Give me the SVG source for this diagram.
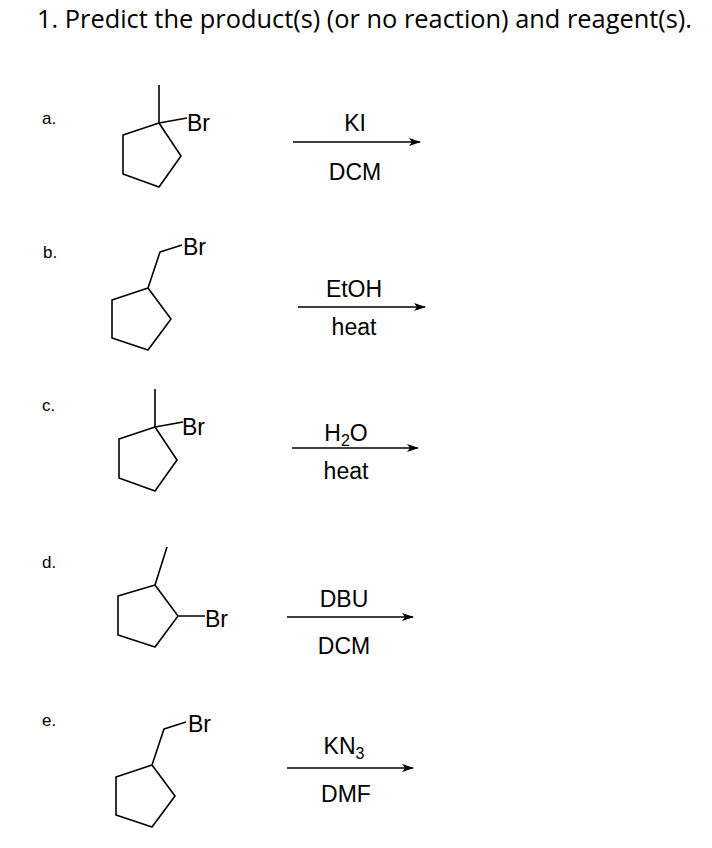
<svg xmlns="http://www.w3.org/2000/svg" width="712" height="848" viewBox="0 0 712 848">
<style>
.b{fill:none;stroke:#000;stroke-width:1.6;stroke-linejoin:round}
.t{font-family:"Liberation Sans",Arial,sans-serif;font-size:23px;fill:#000}
.l{font-family:"Liberation Sans",Arial,sans-serif;font-size:17px;fill:#000}
.m{text-anchor:middle}
</style>
<defs><marker id="ah" markerWidth="12" markerHeight="8" refX="11" refY="4" orient="auto" markerUnits="userSpaceOnUse"><path d="M0,0 L12,4 L0,8 L3,4 z" fill="#000"/></marker></defs>
<rect width="712" height="848" fill="#fff"/>
<text x="37" y="28" font-family="'Open Sans',sans-serif" font-size="25" textLength="655" lengthAdjust="spacingAndGlyphs">1. Predict the product(s) (or no reaction) and reagent(s).</text>
<g id="a"><text class="l" x="42" y="124">a.</text>
<path class="b" d="M159,123 L181,156 L159,187 L123,174 L123,135 Z M159,123 L159,85 M159,123 L187,118"/>
<text class="t" x="187" y="131">Br</text></g>
<g id="b"><text class="l" x="43" y="258">b.</text>
<path class="b" d="M148,288 L171,319 L148,350 L112,338 L112,300 Z M148,288 L160,252 L182,245"/>
<text class="t" x="183" y="255">Br</text></g>
<g id="c"><text class="l" x="42" y="411">c.</text>
<path class="b" d="M155,427 L177,460 L155,491 L119,478 L119,439 Z M155,427 L155,389 M155,427 L183,422"/>
<text class="t" x="182" y="435">Br</text></g>
<g id="d"><text class="l" x="42" y="568">d.</text>
<path class="b" d="M155,585 L178,616 L155,647 L118,635 L118,596 Z M155,585 L167,547 M178,616 L205,616"/>
<text class="t" x="205" y="627">Br</text></g>
<g id="e"><text class="l" x="42" y="726">e.</text>
<path class="b" d="M152,765 L175,796 L152,827 L116,815 L116,777 Z M152,765 L164,729 L186,722"/>
<text class="t" x="188" y="732">Br</text></g>
<g id="connectors">
<line class="b" x1="293" y1="142" x2="420" y2="142" marker-end="url(#ah)"/>
<line class="b" x1="298" y1="307" x2="425" y2="307" marker-end="url(#ah)"/>
<line class="b" x1="292" y1="448" x2="418" y2="448" marker-end="url(#ah)"/>
<line class="b" x1="287" y1="617" x2="413" y2="617" marker-end="url(#ah)"/>
<line class="b" x1="287" y1="768" x2="413" y2="768" marker-end="url(#ah)"/>
</g>
<g id="reagents">
<text class="t m" x="355" y="131">KI</text><text class="t m" x="355" y="180">DCM</text>
<text class="t m" x="354" y="297">EtOH</text><text class="t m" x="354" y="335">heat</text>
<text class="t m" x="346" y="441">H<tspan font-size="16" dy="5">2</tspan><tspan dy="-5">O</tspan></text><text class="t m" x="346" y="479">heat</text>
<text class="t m" x="344" y="607">DBU</text><text class="t m" x="344" y="654">DCM</text>
<text class="t m" x="344" y="754">KN<tspan font-size="16" dy="5">3</tspan></text><text class="t m" x="346" y="802">DMF</text>
</g>
</svg>
